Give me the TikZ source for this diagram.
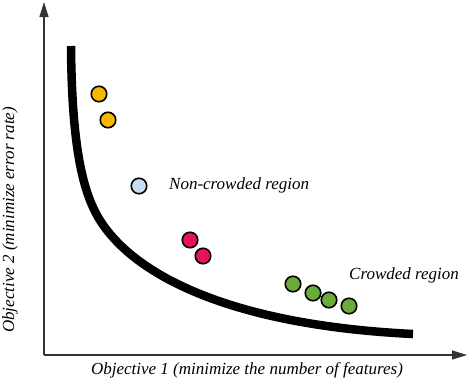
\documentclass[tikz,border=0pt]{standalone}
\usepackage{fontspec}
\setmainfont{Liberation Serif}
\usetikzlibrary{arrows.meta}
\definecolor{cyel}{HTML}{F5B700}
\definecolor{cblue}{HTML}{C9DDF0}
\definecolor{cpink}{HTML}{E5145A}
\definecolor{cgreen}{HTML}{6BAA3C}
\tikzset{
  pt/.style={circle, draw=black, line width=1.6pt, minimum size=15.5pt, inner sep=0pt},
  lbl/.style={font=\fontsize{17}{20}\selectfont\itshape, inner sep=0pt},
  axis/.style={line width=1.2pt, draw=black!80, -{Triangle[length=15pt,width=9pt]}},
}
\begin{document}
\begin{tikzpicture}[x=1pt,y=-1pt]
\useasboundingbox (0,0) rectangle (474,381);
\fill[white] (0,0) rectangle (474,381);
% axes
\coordinate (o) at (44,355);
\coordinate (ytop) at (44,2);
\coordinate (xend) at (467,355);
\draw[axis] (o) -- (ytop);
\draw[axis] (o) -- (xend);
% front curve
\coordinate (c0) at (71,46);
\coordinate (c1) at (110,234);
\coordinate (c2) at (413,334);
\draw[line width=8.5pt, line cap=butt] (c0) .. controls (72,175) and (90,210) .. (c1)
  .. controls (145,276) and (230,325) .. (c2);
% points
\node[pt, fill=cyel] (y1) at (99,94) {};
\node[pt, fill=cyel] (y2) at (108,120) {};
\node[pt, fill=cblue] (b1) at (139,186) {};
\node[pt, fill=cpink] (p1) at (190,240) {};
\node[pt, fill=cpink] (p2) at (203,256) {};
\node[pt, fill=cgreen] (g1) at (293,284) {};
\node[pt, fill=cgreen] (g2) at (313,293) {};
\node[pt, fill=cgreen] (g3) at (329,300) {};
\node[pt, fill=cgreen] (g4) at (349,306) {};
% labels
\node[lbl, anchor=west] (nc) at (169,185) {Non-crowded region};
\node[lbl, anchor=west] (cr) at (349,275) {Crowded region};
\node[lbl] (xl) at (247,370) {Objective 1 (minimize the number of features)};
\node[lbl, rotate=90] (yl) at (10,220) {Objective 2 (minimize error rate)};
\end{tikzpicture}
\end{document}
